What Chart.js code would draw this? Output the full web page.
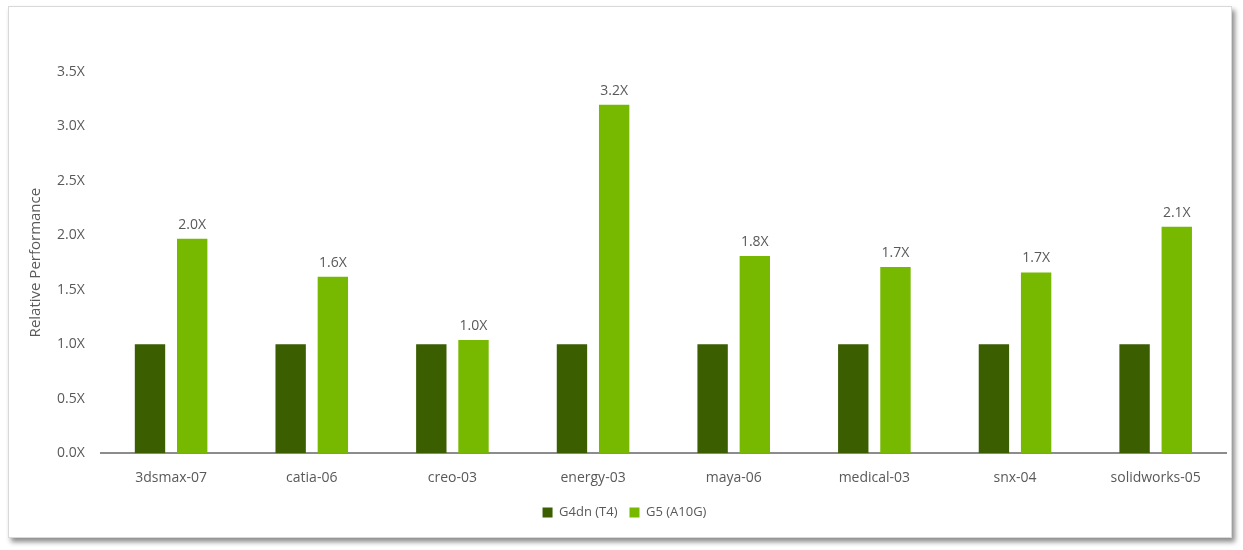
<!DOCTYPE html>
<html><head><meta charset="utf-8">
<script src="https://cdn.jsdelivr.net/npm/chart.js@4"></script>
<style>
body{margin:0;background:#fff;}
#frame{position:absolute;left:8px;top:6px;width:1222px;height:530px;border:1px solid #d9d9d9;box-shadow:3px 4px 5px rgba(0,0,0,0.45);background:#fff;}
#c{display:block;}
</style></head><body>
<div id="frame"><canvas id="c" width="1222" height="530"></canvas></div>
<script>
const categories=["3dsmax-07","catia-06","creo-03","energy-03","maya-06","medical-03","snx-04","solidworks-05"];
const g4dn=[1,1,1,1,1,1,1,1];
const g5=[1.97,1.62,1.04,3.20,1.81,1.71,1.66,2.08];
const seriesNames=["G4dn (T4)","G5 (A10G)"];
const FONT="'Open Sans', 'Liberation Sans', sans-serif";
const labelPlugin={id:'lbl',afterDatasetsDraw(ch){
  const ctx=ch.ctx;const meta=ch.getDatasetMeta(1);
  ctx.save();ctx.font="14px "+FONT;ctx.fillStyle="#595959";ctx.textAlign="center";ctx.textBaseline="bottom";
  meta.data.forEach((b,i)=>{ctx.fillText(g5[i].toFixed(1)+"X",b.x,b.y-7);});
  ctx.restore();}};
new Chart(document.getElementById('c'),{type:'bar',
data:{labels:categories,datasets:[
 {label:seriesNames[0],data:g4dn,backgroundColor:'#3a5e00'},
 {label:seriesNames[1],data:g5,backgroundColor:'#76b900'}]},
options:{responsive:false,animation:false,devicePixelRatio:1,
 layout:{padding:{top:65,right:5,left:14,bottom:8}},
 plugins:{legend:{position:'bottom',labels:{boxWidth:10,boxHeight:10,padding:12,color:'#595959',font:{family:FONT,size:13}}},tooltip:{enabled:false}},
 datasets:{bar:{categoryPercentage:0.6,barPercentage:0.72}},
 scales:{
  x:{grid:{display:false},border:{color:'#8c8c8c',width:2},ticks:{color:'#595959',font:{family:FONT,size:14},padding:8}},
  y:{min:0,max:3.5,grid:{display:false},border:{display:false},
   ticks:{stepSize:0.5,color:'#595959',font:{family:FONT,size:14},padding:8,callback:v=>v.toFixed(1)+"X"},
   title:{display:true,text:'Relative Performance',color:'#595959',font:{family:FONT,size:15}}}}},
plugins:[labelPlugin]});
</script></body></html>
